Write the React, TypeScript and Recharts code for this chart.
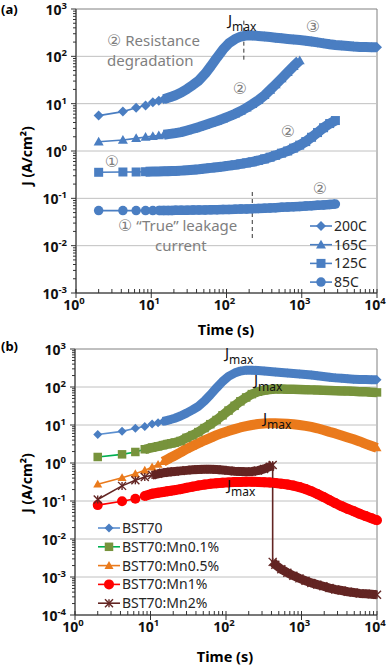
import React from "react";
import { LineChart, Line, XAxis, YAxis, ReferenceLine, ReferenceArea } from "recharts";

// measurement times (s) shared by most curves
const TIME = [
  2, 4.2, 6.3, 8.4, 10.5, 12.6, 14.7, 16.8, 18.9, 21, 25, 30, 36, 43, 52, 62, 75, 90, 108, 130, 155, 185,
  220, 265, 320, 380, 450, 540, 650, 780, 940, 1130, 1350, 1620, 1950, 2350, 2800, 3400, 4100, 4900,
  5900, 7100, 8500, 10000,
];

// panel (a) - J (A/cm2) per temperature
const J_200C = [
  5.6, 6.8, 8.2, 9.2, 10.7, 11.5, 12.4, 13.3, 14.2, 15.1, 17.2, 20.5, 25, 31, 43, 62, 95, 140, 190, 232,
  262, 278, 276, 270, 262, 255, 248, 240, 233, 227, 221, 214, 206, 197, 188, 180, 174, 169, 165, 161,
  158, 157, 156, 155,
];
const J_165C = [
  1.57, 1.71, 1.85, 1.98, 2.06, 2.13, 2.2, 2.27, 2.33, 2.39, 2.5, 2.72, 2.95, 3.2, 3.55, 3.9, 4.3, 4.8,
  5.4, 6.1, 7.0, 8.2, 9.7, 11.8, 15, 19.5, 25.5, 34, 46, 62, 82,
];
const J_125C = [
  0.355, 0.36, 0.36, 0.365, 0.368, 0.37, 0.372, 0.375, 0.378, 0.38, 0.385, 0.392, 0.4, 0.41, 0.425, 0.44,
  0.455, 0.47, 0.49, 0.51, 0.535, 0.56, 0.59, 0.63, 0.68, 0.74, 0.81, 0.9, 1.0, 1.15, 1.33, 1.58, 1.95,
  2.45, 3.1, 3.8, 4.4,
];
const J_85C = [
  0.055, 0.055, 0.055, 0.055, 0.0552, 0.0553, 0.0554, 0.0555, 0.0556, 0.0557, 0.056, 0.0562, 0.0565,
  0.0567, 0.057, 0.0573, 0.0576, 0.058, 0.0584, 0.0588, 0.0593, 0.0598, 0.0604, 0.061, 0.0618, 0.0626,
  0.0635, 0.0645, 0.0655, 0.0665, 0.0676, 0.0688, 0.07, 0.0713, 0.0727, 0.0742, 0.0758,
];

// panel (b) - J (A/cm2) per Mn doping (BST70 = J_200C)
const J_MN01 = [
  1.44, 1.69, 1.95, 2.3, 2.55, 2.75, 2.95, 3.15, 3.3, 3.45, 3.8, 4.6, 5.4, 6.5, 8.3, 10.5, 13.5, 18, 24,
  32, 42, 53, 65, 75, 82, 86, 88, 88, 87.5, 87, 86, 85, 84, 83, 82, 81, 80, 79, 78, 77, 75.5, 74.5, 73, 72,
];
const J_MN05 = [
  0.276, 0.41, 0.52, 0.64, 0.78, 0.92, 1.08, 1.25, 1.42, 1.58, 1.9, 2.35, 2.8, 3.3, 3.95, 4.6, 5.4, 6.2,
  7.0, 7.8, 8.6, 9.3, 10.0, 10.6, 11.0, 11.2, 11.2, 11.0, 10.8, 10.5, 10.0, 9.5, 8.9, 8.2, 7.4, 6.6, 6.0,
  5.3, 4.7, 4.2, 3.7, 3.2, 2.8, 2.5,
];
const J_MN1 = [
  0.078, 0.099, 0.114, 0.136, 0.155, 0.165, 0.172, 0.18, 0.187, 0.193, 0.205, 0.222, 0.238, 0.255, 0.27,
  0.283, 0.294, 0.302, 0.309, 0.314, 0.318, 0.32, 0.32, 0.318, 0.313, 0.306, 0.297, 0.286, 0.272, 0.254,
  0.232, 0.207, 0.18, 0.153, 0.128, 0.105, 0.088, 0.073, 0.062, 0.054, 0.046, 0.04, 0.035, 0.031,
];
const T_MN2_PRE = [
  2, 4.2, 6.3, 8.4, 10.5, 12.6, 14.7, 16.8, 18.9, 21, 25, 30, 36, 43, 52, 62, 75, 90, 108, 130, 155, 185,
  220, 265, 320, 380, 415,
];
const J_MN2_PRE = [
  0.11, 0.25, 0.35, 0.43, 0.48, 0.52, 0.55, 0.57, 0.59, 0.6, 0.62, 0.64, 0.66, 0.67, 0.68, 0.68, 0.67,
  0.65, 0.63, 0.61, 0.6, 0.59, 0.6, 0.63, 0.7, 0.8, 0.88,
];
const T_MN2_POST = [
  415, 450, 540, 650, 780, 940, 1130, 1350, 1620, 1950, 2350, 2800, 3400, 4100, 4900, 5900, 7100, 8500, 10000,
];
const J_MN2_POST = [
  0.0025, 0.0021, 0.0016, 0.0013, 0.00108, 0.00092, 0.0008, 0.0007, 0.00063, 0.00057, 0.00051, 0.00047,
  0.00044, 0.00041, 0.00039, 0.00037, 0.00036, 0.00035, 0.00034,
];

const X_DECADES = [1, 10, 100, 1000, 10000];
const Y_DECADES_A = [0.001, 0.01, 0.1, 1, 10, 100, 1000];
const Y_DECADES_B = [0.0001, 0.001, 0.01, 0.1, 1, 10, 100, 1000];
const MINOR = [2, 3, 4, 5, 6, 7, 8, 9];

const T_JMAX = 170;
const T_LEAK = 220;

const FONT = "'Noto Sans', 'DejaVu Sans', sans-serif";
const AXIS = "#333333";
const GRID = "#c0c0c0";
const BLUE = "#4a7ec2";
const GRAY_TXT = "#7f7f7f";

type Pt = { t: number; j: number };
type Shape = "diamond" | "triangle" | "square" | "circle" | "star";

interface Series {
  name: string;
  segments: Pt[][];
  color: string;
  line: string;
  shape: Shape;
  size: number;
  band: number;
  bandFrom: number;
}

const zip = (ts: number[], js: number[]): Pt[] => js.map((j, i) => ({ t: ts[i], j }));

const withMinors = (dec: number[]) =>
  dec.flatMap((d, i) => (i < dec.length - 1 ? [d, ...MINOR.map((m) => d * m)] : [d]));

const isDecade = (v: number) => Math.abs(Math.log10(v) - Math.round(Math.log10(v))) < 1e-6;

const SERIES_A: Series[] = [
  { name: "200C", segments: [zip(TIME, J_200C)], color: BLUE, line: BLUE, shape: "diamond", size: 10, band: 10, bandFrom: 14 },
  { name: "165C", segments: [zip(TIME, J_165C)], color: BLUE, line: BLUE, shape: "triangle", size: 10, band: 10, bandFrom: 14 },
  { name: "125C", segments: [zip(TIME, J_125C)], color: BLUE, line: BLUE, shape: "square", size: 9, band: 10, bandFrom: 8 },
  { name: "85C", segments: [zip(TIME, J_85C)], color: BLUE, line: BLUE, shape: "circle", size: 9.5, band: 9.5, bandFrom: 12 },
];

const SERIES_B: Series[] = [
  { name: "BST70", segments: [zip(TIME, J_200C)], color: BLUE, line: "#5b8fd0", shape: "diamond", size: 9, band: 9, bandFrom: 14 },
  { name: "BST70:Mn0.1%", segments: [zip(TIME, J_MN01)], color: "#77933c", line: "#00b050", shape: "square", size: 8.5, band: 9.5, bandFrom: 8 },
  { name: "BST70:Mn0.5%", segments: [zip(TIME, J_MN05)], color: "#ea7a1c", line: "#ea7a1c", shape: "triangle", size: 9, band: 10, bandFrom: 14 },
  { name: "BST70:Mn1%", segments: [zip(TIME, J_MN1)], color: "#ff0000", line: "#ff0000", shape: "circle", size: 10, band: 10, bandFrom: 8 },
  {
    name: "BST70:Mn2%",
    segments: [zip(T_MN2_PRE, J_MN2_PRE), zip(T_MN2_POST, J_MN2_POST)],
    color: "#632523",
    line: "#632523",
    shape: "star",
    size: 8,
    band: 9,
    bandFrom: 10,
  },
];

function Marker({ cx, cy, shape, color, size }: { cx: number; cy: number; shape: Shape; color: string; size: number }) {
  const s = size / 2;
  if (shape === "diamond")
    return <polygon points={`${cx},${cy - s} ${cx + s},${cy} ${cx},${cy + s} ${cx - s},${cy}`} fill={color} />;
  if (shape === "triangle")
    return <polygon points={`${cx},${cy - s} ${cx + s},${cy + s * 0.75} ${cx - s},${cy + s * 0.75}`} fill={color} />;
  if (shape === "square") return <rect x={cx - s} y={cy - s} width={size} height={size} fill={color} />;
  if (shape === "circle") return <circle cx={cx} cy={cy} r={s} fill={color} />;
  return (
    <g stroke={color} strokeWidth={1.4}>
      <line x1={cx - s} y1={cy - s} x2={cx + s} y2={cy + s} />
      <line x1={cx - s} y1={cy + s} x2={cx + s} y2={cy - s} />
      <line x1={cx} y1={cy - s} x2={cx} y2={cy + s} />
    </g>
  );
}

function seriesLines(s: Series, id: string) {
  const all = s.segments.flat();
  const out = [
    <Line key={id + "-l"} data={all} dataKey="j" type="linear" stroke={s.line} strokeWidth={1.6}
      dot={false} activeDot={false} isAnimationActive={false} />,
  ];
  s.segments.forEach((seg, i) => {
    const b = seg.filter((p) => p.t >= s.bandFrom);
    if (b.length > 1)
      out.push(
        <Line key={id + "-b" + i} data={b} dataKey="j" type="linear" stroke={s.color} strokeWidth={s.band}
          strokeLinejoin="round" dot={false} activeDot={false} isAnimationActive={false} />
      );
  });
  out.push(
    <Line key={id + "-m"} data={all} dataKey="j" type="linear" stroke="none" activeDot={false}
      isAnimationActive={false}
      dot={(p: any) =>
        p.cx == null || p.cy == null ? (
          <g key={id + "d" + p.index} />
        ) : (
          <Marker key={id + "d" + p.index} cx={p.cx} cy={p.cy} shape={s.shape} color={s.color} size={s.size} />
        )
      }
    />
  );
  return out;
}

function renderXTick(props: any) {
  const { x, y, payload } = props;
  const v = payload.value;
  const major = isDecade(v);
  return (
    <g>
      <line x1={x} x2={x} y1={y - 4} y2={major ? y + 5 : y} stroke={AXIS} />
      {major && (
        <text x={x - 2} y={y + 17} textAnchor="middle" fontSize={14} fontWeight={700} fill="#111" fontFamily={FONT}>
          10
          <tspan dy={-6} fontSize={9.5}>{Math.round(Math.log10(v))}</tspan>
        </text>
      )}
    </g>
  );
}

function renderYTick(props: any) {
  const { x, y, payload } = props;
  const v = payload.value;
  const major = isDecade(v);
  return (
    <g>
      <line x1={major ? x - 5 : x - 3} x2={x} y1={y} y2={y} stroke={AXIS} />
      {major && (
        <text x={x - 9} y={y + 6} textAnchor="end" fontSize={14} fontWeight={700} fill="#111" fontFamily={FONT}>
          10
          <tspan dy={-6} fontSize={9.5}>{Math.round(Math.log10(v))}</tspan>
        </text>
      )}
    </g>
  );
}

function axes(yDecades: number[]) {
  return [
    <XAxis key="x" type="number" dataKey="t" scale="log" domain={[1, 10000]} ticks={withMinors(X_DECADES)}
      interval={0} tickSize={0} tickMargin={0} tickLine={false} tick={renderXTick}
      axisLine={{ stroke: AXIS }} height={yDecades.length > 7 ? 53 : 42} />,
    <YAxis key="y" type="number" dataKey="j" scale="log" domain={[yDecades[0], yDecades[yDecades.length - 1]]}
      ticks={withMinors(yDecades)} interval={0} tickSize={0} tickMargin={0} tickLine={false} tick={renderYTick}
      axisLine={{ stroke: AXIS }} width={60} />,
    ...yDecades.slice(1, -1).map((v) => <ReferenceLine key={"g" + v} y={v} stroke={GRID} />),
  ];
}

function Legend({ items, x, y, dy }: { items: Series[]; x: number; y: number; dy: number }) {
  return (
    <g>
      {items.map((s, i) => {
        const cy = y + i * dy;
        return (
          <g key={s.name}>
            <line x1={x} x2={x + 22} y1={cy} y2={cy} stroke={s.line} strokeWidth={1.6} />
            <Marker cx={x + 11} cy={cy} shape={s.shape} color={s.color} size={s.size} />
            <text x={x + 24} y={cy + 5} fontSize={14} fill="#262626">{s.name}</text>
          </g>
        );
      })}
    </g>
  );
}

function Jmax({ x, y }: { x: number; y: number }) {
  return (
    <text x={x} y={y} fontSize={15} fill="#111">
      J<tspan dy={6} fontSize={12}>max</tspan>
    </text>
  );
}

function Annotations() {
  return (
    <svg width={389} height={668} fontFamily={FONT}
      style={{ position: "absolute", left: 0, top: 0, pointerEvents: "none" }}>
      <text x={1} y={14} fontSize={13} fontWeight={700}>(a)</text>
      <text x={1} y={351} fontSize={13} fontWeight={700}>(b)</text>
      <text transform="translate(32,156) rotate(-90)" textAnchor="middle" fontSize={14} fontWeight={700}>J (A/cm²)</text>
      <text transform="translate(32,483) rotate(-90)" textAnchor="middle" fontSize={14} fontWeight={700}>J (A/cm²)</text>
      <text x={226} y={335} textAnchor="middle" fontSize={14.5} fontWeight={700}>Time (s)</text>
      <text x={225} y={662} textAnchor="middle" fontSize={14.5} fontWeight={700}>Time (s)</text>

      <g fill={GRAY_TXT} fontSize={15}>
        <text x={107} y={46}><tspan fontSize={16}>②</tspan> Resistance</text>
        <text x={107} y={66}>degradation</text>
        <text x={118} y={231}><tspan fontSize={16}>①</tspan> “True’’ leakage</text>
        <text x={155} y={251}>current</text>
        <text x={313} y={32} fontSize={16} textAnchor="middle">③</text>
        <text x={240} y={94} fontSize={16} textAnchor="middle">②</text>
        <text x={288} y={137} fontSize={16} textAnchor="middle">②</text>
        <text x={320} y={194} fontSize={16} textAnchor="middle">②</text>
        <text x={112} y={167} fontSize={16} textAnchor="middle">①</text>
      </g>

      <Jmax x={228} y={25} />
      <Jmax x={225} y={358} />
      <Jmax x={254} y={385} />
      <Jmax x={263} y={423} />
      <Jmax x={227} y={490} />

      <Legend items={SERIES_A} x={310} y={226} dy={18.7} />
      <Legend items={SERIES_B} x={98} y={528} dy={18.8} />
    </svg>
  );
}

export default function App() {
  return (
    <div style={{ position: "absolute", left: 0, top: 0, width: 389, height: 668, background: "#fff", fontFamily: FONT }}>
      <div style={{ position: "absolute", left: 0, top: 0 }}>
        <LineChart width={389} height={335} margin={{ top: 9, right: 12, bottom: 0, left: 16 }}>
          {axes(Y_DECADES_A)}
          <ReferenceLine segment={[{ x: T_JMAX, y: 85 }, { x: T_JMAX, y: 650 }]} stroke={AXIS} strokeDasharray="4 3" />
          <ReferenceLine segment={[{ x: T_LEAK, y: 0.0145 }, { x: T_LEAK, y: 0.15 }]} stroke={AXIS} strokeDasharray="4 3" />
          {SERIES_A.flatMap((s, i) => seriesLines(s, "a" + i))}
          <ReferenceArea x1={1} x2={10000} y1={0.001} y2={1000} fill="none" stroke="#808080" ifOverflow="visible" />
        </LineChart>
      </div>
      <div style={{ position: "absolute", left: 0, top: 335 }}>
        <LineChart width={389} height={333} margin={{ top: 14, right: 12, bottom: 0, left: 15 }}>
          {axes(Y_DECADES_B)}
          {SERIES_B.flatMap((s, i) => seriesLines(s, "b" + i))}
          <ReferenceArea x1={1} x2={10000} y1={0.0001} y2={1000} fill="none" stroke="#808080" ifOverflow="visible" />
        </LineChart>
      </div>
      <Annotations />
    </div>
  );
}
